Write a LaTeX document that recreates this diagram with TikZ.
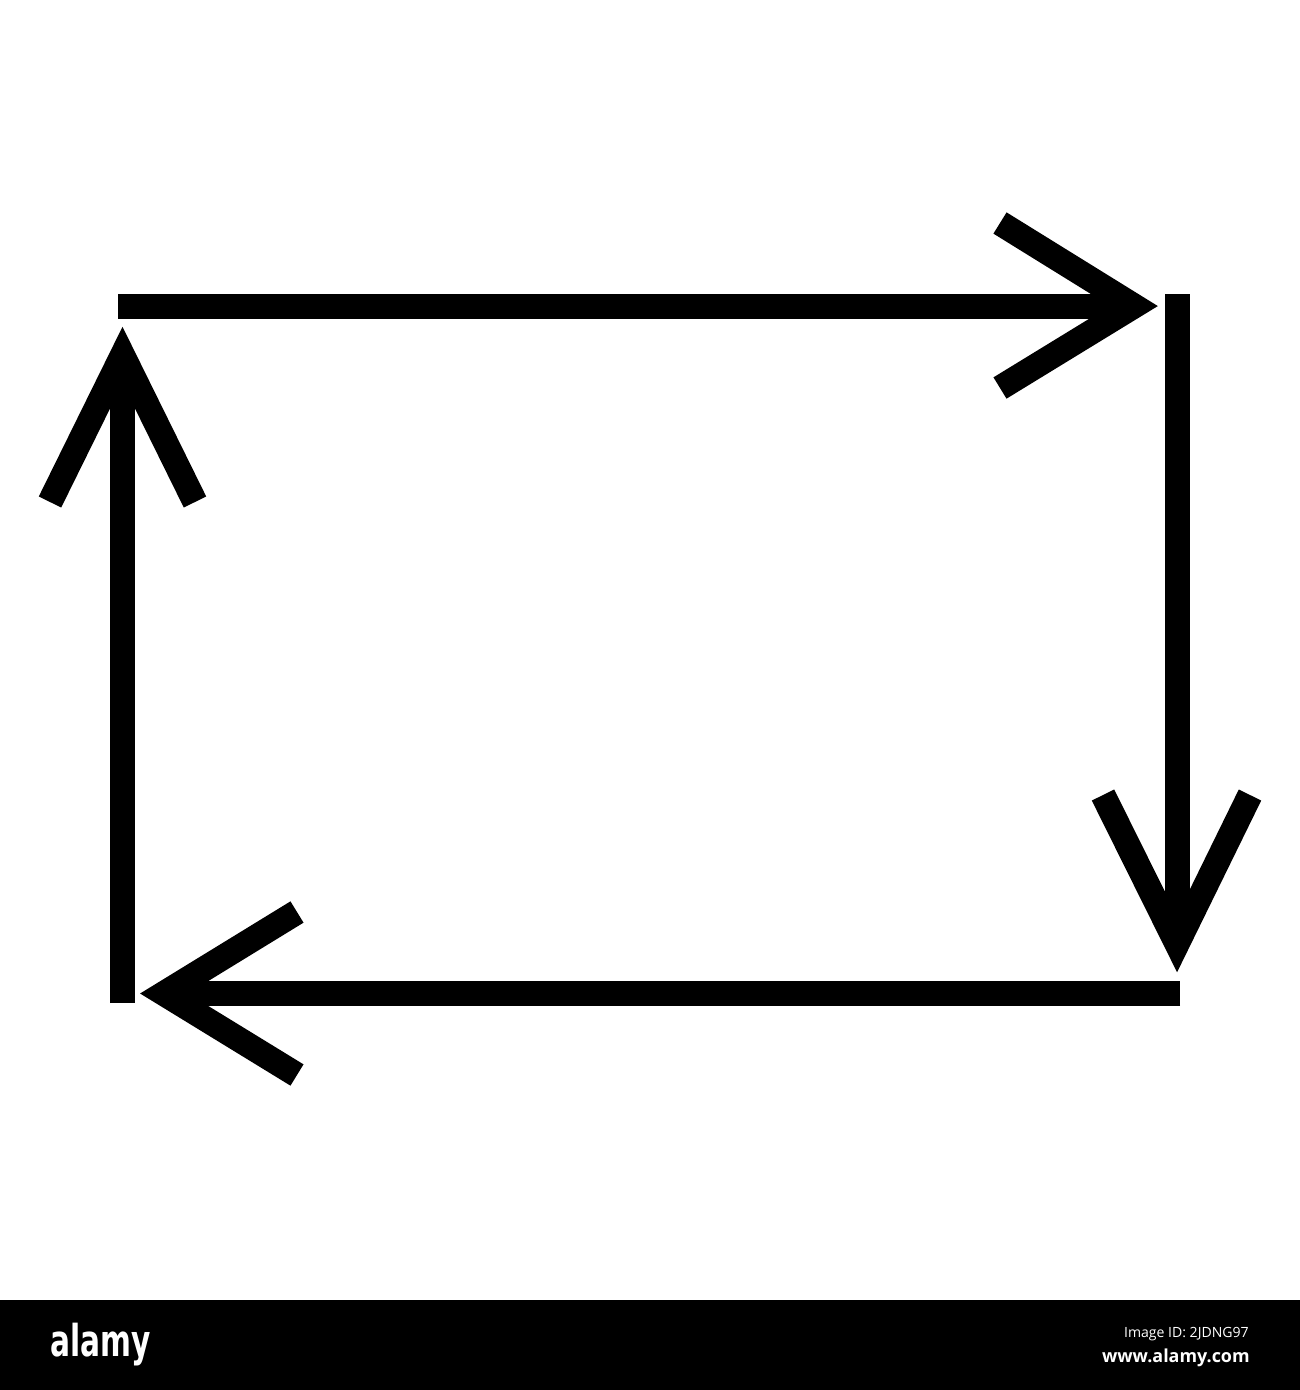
\documentclass[tikz,border=0pt]{standalone}
\usepackage{fontspec}
\setmainfont{Open Sans}
\newfontfamily\logofont{DejaVu Sans Condensed}
\usetikzlibrary{arrows.meta}

\begin{document}
\begin{tikzpicture}[x=0.02cm, y=-0.02cm,
    shaft/.style={line width=\barW, line cap=butt},
    chevron/.style={line width=\barW, line cap=butt, line join=miter}]

    % Define parameters for easy adjustment
    \def\barW{0.5cm}       % Thickness of every stroke
    \def\stripTop{1300}    % Top of the black strip

    \useasboundingbox (0,0) rectangle (1300,1390);

    % 1. Corners of the loop (tip = where the chevron joins)
    \coordinate (topStart) at (118,306);
    \coordinate (topTip) at (1134,306);
    \coordinate (rightStart) at (1177,294);
    \coordinate (rightTip) at (1177,944);
    \coordinate (bottomStart) at (1180,993.5);
    \coordinate (bottomTip) at (164,993.5);
    \coordinate (leftStart) at (122.5,1003);
    \coordinate (leftTip) at (122.5,355);

    % 2. Draw the four shafts
    \draw[shaft] (topStart) -- (topTip);
    \draw[shaft] (rightStart) -- (rightTip);
    \draw[shaft] (bottomStart) -- (bottomTip);
    \draw[shaft] (leftStart) -- (leftTip);

    % 3. Draw the chevron heads
    \draw[chevron] (1000,223) -- (topTip) -- (1000,388);
    \draw[chevron] (1103,795) -- (rightTip) -- (1250,795);
    \draw[chevron] (297,912) -- (bottomTip) -- (297,1075);
    \draw[chevron] (50,502) -- (leftTip) -- (195,502);

    % 4. Black strip at the bottom with its texts
    \fill[black] (0,\stripTop) rectangle (1300,1390);
    \node[anchor=base west, inner sep=0pt, text=white,
          font=\logofont\bfseries\fontsize{25}{27}\selectfont] (logo) at (50,1356)
          {\scalebox{0.75}[1]{alamy}};
    \node[anchor=base east, inner sep=0pt, text=white,
          font=\fontsize{8}{10}\selectfont] (imgId) at (1249,1337) {Image ID: 2JDNG97};
    \node[anchor=base east, inner sep=0pt, text=white,
          font=\bfseries\fontsize{10.2}{12}\selectfont] (site) at (1250,1362) {www.alamy.com};
\end{tikzpicture}
\end{document}
